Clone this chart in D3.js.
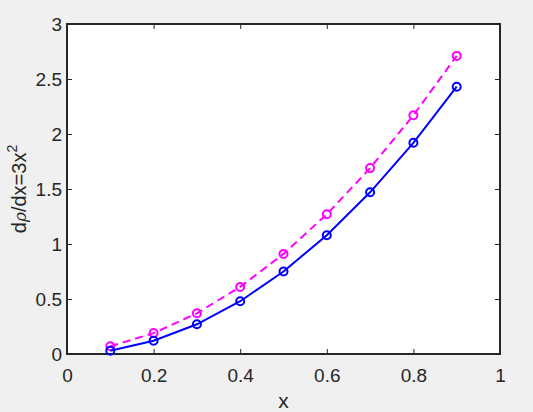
<!DOCTYPE html>
<html><head><meta charset="utf-8">
<script src="https://cdn.jsdelivr.net/npm/d3@7"></script>
<style>body{margin:0;background:#f0f0f0;}svg{display:block;}</style>
</head><body>
<script>
const xs = [0.1,0.2,0.3,0.4,0.5,0.6,0.7,0.8,0.9];
const exact = [0.03,0.12,0.27,0.48,0.75,1.08,1.47,1.92,2.43];
const approx = [0.07,0.19,0.37,0.61,0.91,1.27,1.69,2.17,2.71];
const xTicks = [0,0.2,0.4,0.6,0.8,1];
const yTicks = [0,0.5,1,1.5,2,2.5,3];

const W=533,H=412, L=67,R=500,T=24,B=354;
const svg=d3.select("body").append("svg").attr("width",W).attr("height",H);
svg.append("rect").attr("width",W).attr("height",H).attr("fill","#f0f0f0");
svg.append("rect").attr("x",L).attr("y",T).attr("width",R-L).attr("height",B-T).attr("fill","#fff");
const x=d3.scaleLinear().domain([0,1]).range([L,R]);
const y=d3.scaleLinear().domain([0,3]).range([B,T]);
const font="Liberation Sans, Arial, sans-serif";
const tl=5;
const fmt=d=>String(d);
const ax=(g)=>{g.selectAll("text").attr("font-family",font).attr("font-size",19).attr("fill","#262626");
  g.selectAll("line").attr("stroke","#262626").attr("stroke-width",1);
  g.select(".domain").remove();};
const gx=svg.append("g").attr("transform",`translate(0,${B})`).call(d3.axisBottom(x).tickValues(xTicks).tickFormat(fmt).tickSize(-tl)).call(ax);
gx.selectAll("text").attr("dy",null).attr("y",28);
svg.append("g").attr("transform",`translate(0,${T})`).call(d3.axisTop(x).tickValues(xTicks).tickFormat("").tickSize(-tl)).call(ax);
const gy=svg.append("g").attr("transform",`translate(${L},0)`).call(d3.axisLeft(y).tickValues(yTicks).tickFormat(fmt).tickSize(-tl)).call(ax);
gy.selectAll("text").attr("x",-5).attr("dy","0.36em");
svg.append("g").attr("transform",`translate(${R},0)`).call(d3.axisRight(y).tickValues(yTicks).tickFormat("").tickSize(-tl)).call(ax);
svg.append("rect").attr("x",L).attr("y",T).attr("width",R-L).attr("height",B-T).attr("fill","none").attr("stroke","#262626").attr("stroke-width",2);

function series(vals,color,dash){
  const pts=xs.map((d,i)=>[d,vals[i]]);
  svg.append("path").datum(pts).attr("fill","none").attr("stroke",color).attr("stroke-width",2)
    .attr("stroke-dasharray",dash).attr("d",d3.line().x(d=>x(d[0])).y(d=>y(d[1])));
  svg.append("g").selectAll("circle").data(pts).join("circle").attr("cx",d=>x(d[0])).attr("cy",d=>y(d[1]))
    .attr("r",4).attr("fill","none").attr("stroke",color).attr("stroke-width",2);
}
series(approx,"#ff00ff","8,5");
series(exact,"#0000ff",null);

svg.append("text").attr("x",(L+R)/2).attr("y",408).attr("text-anchor","middle").attr("font-family",font).attr("font-size",21).attr("fill","#262626").text("x");
const yl=svg.append("text").attr("transform",`translate(26,${(T+B)/2}) rotate(-90)`).attr("text-anchor","middle").attr("font-family",font).attr("font-size",20).attr("fill","#262626");
yl.append("tspan").text("d");
yl.append("tspan").attr("font-family","DejaVu Serif, serif").attr("font-style","italic").attr("font-size",17).text("ρ");
yl.append("tspan").text("/dx=3x");
yl.append("tspan").attr("font-size",14).attr("dy",-9).text("2");
</script>
</body></html>
